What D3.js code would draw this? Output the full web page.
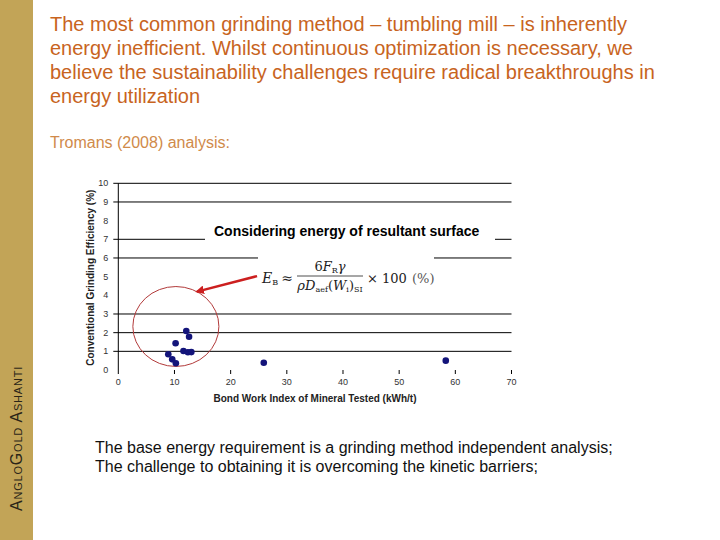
<!DOCTYPE html>
<html><head><meta charset="utf-8">
<script src="https://cdn.jsdelivr.net/npm/d3@7"></script>
<style>html,body{margin:0;padding:0;background:#fff;}svg{display:block;}</style>
</head><body>
<script>
// ---- data ----
const bondWorkIndex = [8.9, 9.6, 10.25, 10.2, 11.6, 12.1, 12.6, 12.4, 13.0, 25.9, 58.3];
const grindingEfficiency = [0.84, 0.57, 0.36, 1.43, 1.02, 2.09, 1.78, 0.95, 0.96, 0.39, 0.50];
const xTicks = [0, 10, 20, 30, 40, 50, 60, 70];
const yTicks = [0, 1, 2, 3, 4, 5, 6, 7, 8, 9, 10];
const gridValues = [1, 2, 3, 6, 7, 9, 10];
const titleLines = [
  "The most common grinding method \u2013 tumbling mill \u2013 is inherently",
  "energy inefficient. Whilst continuous optimization is necessary, we",
  "believe the sustainability challenges require radical breakthroughs in",
  "energy utilization"
];
const subtitle = "Tromans (2008) analysis:";
const footLines = [
  "The base energy requirement is a grinding method independent analysis;",
  "The challenge to obtaining it is overcoming the kinetic barriers;"
];
const xLabel = "Bond Work Index of Mineral Tested (kWh/t)";
const yLabel = "Conventional Grinding Efficiency (%)";
const annotation = "Considering energy of resultant surface";
const highlight = {cx: 10.25, cy: 2.33, rx: 7.66, ry: 2.14};
const arrowFrom = [24.7, 5.03], arrowTo = [14.0, 4.2];

const W = 720, H = 540;
const svg = d3.select("body").append("svg").attr("width", W).attr("height", H)
  .style("font-family", "Arial, 'Liberation Sans', sans-serif");

// sidebar
svg.append("rect").attr("x", 0).attr("y", 0).attr("width", 33).attr("height", H).attr("fill", "#c2a457");
svg.append("text").attr("transform", "translate(22,511) rotate(-90)")
  .attr("font-size", 16).attr("fill", "#2a2418").style("font-variant", "small-caps")
  .attr("letter-spacing", 0.8).text("AngloGold Ashanti");

// title
svg.append("g").selectAll("text").data(titleLines).join("text")
  .attr("x", 50).attr("y", (d, i) => 31 + i * 24)
  .attr("font-size", 20).attr("fill", "#c8641e").text(d => d);
svg.append("text").attr("x", 50).attr("y", 148).attr("font-size", 16)
  .attr("fill", "#d08a4a").text(subtitle);
svg.append("g").selectAll("text").data(footLines).join("text")
  .attr("x", 95).attr("y", (d, i) => 453 + i * 19)
  .attr("font-size", 16).attr("fill", "#111").text(d => d);

// scales
const x = d3.scaleLinear().domain([0, 70]).range([118.3, 511.5]);
const y = d3.scaleLinear().domain([0, 10]).range([370, 183.3]);

const g = svg.append("g");
// gridlines
g.selectAll("line.grid").data(gridValues).join("line")
  .attr("x1", x(0) - 5).attr("x2", x(70)).attr("y1", d => y(d)).attr("y2", d => y(d))
  .attr("stroke", "#000").attr("stroke-width", 1);
// y axis line
g.append("line").attr("x1", x(0)).attr("x2", x(0)).attr("y1", y(0)).attr("y2", y(10))
  .attr("stroke", "#000").attr("stroke-width", 1);
// y tick labels
g.selectAll("text.yt").data(yTicks).join("text")
  .attr("x", x(0) - 10).attr("y", d => y(d) + 3).attr("text-anchor", "end")
  .attr("font-size", 9).attr("fill", "#333").text(d => d);
// x ticks
g.selectAll("line.xt").data(xTicks).join("line")
  .attr("x1", d => x(d)).attr("x2", d => x(d)).attr("y1", y(0)).attr("y2", y(0) + 4)
  .attr("stroke", "#000");
g.selectAll("text.xt").data(xTicks).join("text")
  .attr("x", d => x(d)).attr("y", y(0) + 15).attr("text-anchor", "middle")
  .attr("font-size", 9).attr("fill", "#333").text(d => d);
// axis labels
g.append("text").attr("x", 315).attr("y", 402).attr("text-anchor", "middle")
  .attr("font-size", 10).attr("font-weight", "bold").attr("fill", "#222").text(xLabel);
g.append("text").attr("transform", `translate(94,${(y(0) + y(10)) / 2 + 1}) rotate(-90)`)
  .attr("text-anchor", "middle").attr("font-size", 10).attr("font-weight", "bold")
  .attr("fill", "#222").text(yLabel);

// annotation boxes
g.append("rect").attr("x", 205).attr("y", 222).attr("width", 290).attr("height", 24).attr("fill", "#fff");
g.append("rect").attr("x", 258).attr("y", 250).attr("width", 176).attr("height", 50).attr("fill", "#fff");
g.append("text").attr("x", 214).attr("y", 236).attr("font-size", 14).attr("font-weight", "bold")
  .attr("fill", "#000").text(annotation);

// formula
const f = g.append("g").style("font-family", "'DejaVu Serif', 'Liberation Serif', serif").attr("fill", "#222");
const eq = f.append("text").attr("x", 262).attr("y", 283).attr("font-size", 14);
eq.append("tspan").attr("font-style", "italic").text("E");
eq.append("tspan").attr("font-size", 8).attr("dy", 2).text("B");
eq.append("tspan").attr("dy", -2).attr("dx", 3).text("\u2248");
const num = f.append("text").attr("x", 330).attr("y", 271).attr("text-anchor", "middle").attr("font-size", 13);
num.append("tspan").text("6");
num.append("tspan").attr("font-style", "italic").text("F");
num.append("tspan").attr("font-size", 8).attr("dy", 2).text("R");
num.append("tspan").attr("dy", -2).attr("font-style", "italic").text("\u03b3");
f.append("line").attr("x1", 297).attr("x2", 363).attr("y1", 276).attr("y2", 276).attr("stroke", "#222").attr("stroke-width", 0.8);
const den = f.append("text").attr("x", 330).attr("y", 290).attr("text-anchor", "middle").attr("font-size", 13);
den.append("tspan").attr("font-style", "italic").text("\u03c1D");
den.append("tspan").attr("font-size", 8).attr("dy", 2).text("aef");
den.append("tspan").attr("dy", -2).text("(");
den.append("tspan").attr("font-style", "italic").text("W");
den.append("tspan").attr("font-size", 8).attr("dy", 2).text("i");
den.append("tspan").attr("dy", -2).text(")");
den.append("tspan").attr("font-size", 8).attr("dy", 2).text("SI");
f.append("text").attr("x", 367).attr("y", 283).attr("font-size", 13).text("\u00d7 100");
f.append("text").attr("x", 412).attr("y", 283).attr("font-size", 13).attr("fill", "#555").text("(%)");

// highlight ellipse
g.append("ellipse").attr("cx", x(highlight.cx)).attr("cy", y(highlight.cy))
  .attr("rx", x(highlight.rx) - x(0)).attr("ry", y(0) - y(highlight.ry))
  .attr("fill", "none").attr("stroke", "#b23a3a").attr("stroke-width", 1);

// arrow
svg.append("defs").append("marker").attr("id", "ah").attr("viewBox", "0 0 10 10")
  .attr("refX", 8).attr("refY", 5).attr("markerWidth", 3.5).attr("markerHeight", 3.5)
  .attr("orient", "auto").append("path").attr("d", "M0,0 L10,5 L0,10 z").attr("fill", "#cc1f1f");
g.append("line").attr("x1", x(arrowFrom[0])).attr("y1", y(arrowFrom[1]))
  .attr("x2", x(arrowTo[0])).attr("y2", y(arrowTo[1]))
  .attr("stroke", "#cc1f1f").attr("stroke-width", 2.5).attr("marker-end", "url(#ah)");

// points
g.selectAll("circle.pt").data(bondWorkIndex.map((v, i) => [v, grindingEfficiency[i]])).join("circle")
  .attr("cx", d => x(d[0])).attr("cy", d => y(d[1])).attr("r", 3.3).attr("fill", "#13147a");
</script>
</body></html>
